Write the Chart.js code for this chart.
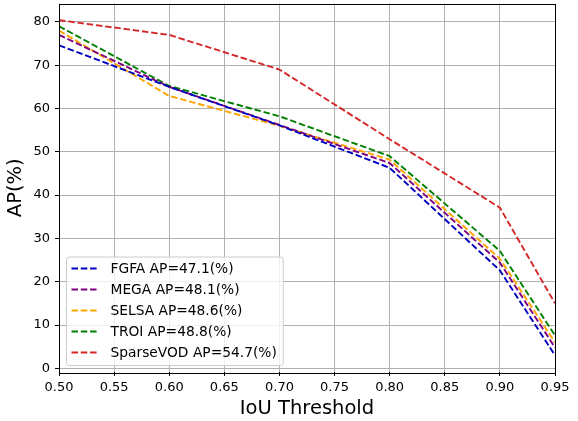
<!DOCTYPE html>
<html>
<head>
<meta charset="utf-8">
<script src="https://cdn.jsdelivr.net/npm/chart.js@4/dist/chart.umd.min.js"></script>
<style>
html,body{margin:0;padding:0;background:#fff;}
#wrap{width:578px;height:421px;position:relative;}
</style>
</head>
<body>
<div id="wrap"><canvas id="myChart"></canvas></div>
<script>
// values
const iou = [0.5, 0.6, 0.7, 0.8, 0.9, 0.95];
const fgfa = [74.6, 65.0, 56.1, 46.3, 22.6, 3.0];
const mega = [77.0, 65.0, 56.2, 47.4, 24.4, 4.8];
const selsa = [78.0, 62.9, 56.0, 48.2, 25.3, 6.0];
const troi = [79.0, 65.2, 58.2, 49.0, 27.1, 7.6];
const sparse = [80.4, 77.0, 69.0, 52.9, 37.1, 15.0];
const names = ["FGFA AP=47.1(%)", "MEGA AP=48.1(%)", "SELSA AP=48.6(%)", "TROI AP=48.8(%)", "SparseVOD AP=54.7(%)"];
const colors = ["#0000c0", "purple", "orange", "green", "#d62728"];
const xTicks = [0.5, 0.55, 0.6, 0.65, 0.7, 0.75, 0.8, 0.85, 0.9, 0.95];
const yTicks = [0, 10, 20, 30, 40, 50, 60, 70, 80];

const FONT = "'DejaVu Sans', sans-serif";

function pts(arr){
    return arr.map((v,i)=>({x: iou[i], y: v}));
}

let series = [fgfa, mega, selsa, troi, sparse];
let datasets = series.map((s,i)=>({
    label: names[i],
    data: pts(s),
    borderColor: colors[i],
    backgroundColor: colors[i],
    borderWidth: 1.9,
    borderDash: [6.5, 2.8],
    pointRadius: 0,
    fill: false,
    tension: 0
}));

// spines + legend box drawn inside the plot like matplotlib
const boxPlugin = {
    id: 'boxPlugin',
    afterDatasetsDraw(chart){
        const ctx = chart.ctx, a = chart.chartArea;
        ctx.save();
        ctx.strokeStyle = '#000';
        ctx.lineWidth = 1;
        ctx.strokeRect(Math.round(a.left)+0.5, Math.round(a.top)+0.5, Math.round(a.right-a.left), Math.round(a.bottom-a.top));
        ctx.restore();
    },
    afterDraw(chart){
        const ctx = chart.ctx, a = chart.chartArea;
        const ds = chart.data.datasets;
        ctx.save();
        ctx.font = "13.8px " + FONT;
        let maxW = 0;
        ds.forEach(d=>{ maxW = Math.max(maxW, ctx.measureText(d.label).width); });
        const rowH = 21;
        const left = a.left + 7;
        const w = 44.5 + maxW + 6;
        const h = rowH*(ds.length-1) + 24.5;
        const top = a.bottom - 7 - h;
        ctx.beginPath();
        ctx.roundRect(left+0.5, top+0.5, w, h, 3);
        ctx.fillStyle = 'rgba(255,255,255,0.8)';
        ctx.fill();
        ctx.strokeStyle = '#cccccc';
        ctx.lineWidth = 1;
        ctx.stroke();
        ds.forEach((d,i)=>{
            const y = top + 12 + i*rowH;
            ctx.beginPath();
            ctx.setLineDash(d.borderDash);
            ctx.strokeStyle = d.borderColor;
            ctx.lineWidth = d.borderWidth;
            ctx.moveTo(left+5.5, y);
            ctx.lineTo(left+32, y);
            ctx.stroke();
            ctx.setLineDash([]);
            ctx.fillStyle = '#000';
            ctx.textBaseline = 'middle';
            ctx.textAlign = 'left';
            ctx.fillText(d.label, left+44.5, y+1);
        });
        ctx.restore();
    }
};

Chart.defaults.font.family = FONT;
Chart.defaults.color = '#000';

var mychart = document.getElementById('myChart').getContext('2d');
var result = new Chart(mychart,{
    type: 'line',
    data: { datasets },
    plugins: [boxPlugin],
    options: {
        responsive: true,
        maintainAspectRatio: false,
        animation: false,
        layout: { padding: { top: 3.5, right: 23, left: 0, bottom: 0 } },
        plugins: {
            legend: { display: false },
            tooltip: { enabled: false }
        },
        scales: {
            x: {
                type: 'linear',
                min: 0.5,
                max: 0.95,
                afterBuildTicks(scale){ scale.ticks = xTicks.map(v=>({value: v})); },
                afterFit(scale){ scale.height = 49; },
                ticks: {
                    font: { size: 13 },
                    padding: 4,
                    maxRotation: 0,
                    autoSkip: false,
                    callback: v => v.toFixed(2)
                },
                grid: { color: '#b0b0b0', lineWidth: 1, tickColor: '#000', tickLength: 4 },
                border: { display: false },
                title: {
                    display: true,
                    text: 'IoU Threshold',
                    font: { size: 19.5 },
                    padding: { top: 0.8, bottom: 0 }
                }
            },
            y: {
                min: -0.85,
                max: 84.25,
                afterBuildTicks(scale){ scale.ticks = yTicks.map(v=>({value: v})); },
                afterFit(scale){
                    scale.width = 59;
                    scale.paddingTop = 0;
                    scale.paddingBottom = 0;
                },
                ticks: { font: { size: 13 }, padding: 5 },
                grid: { color: '#b0b0b0', lineWidth: 1, tickColor: '#000', tickLength: 4 },
                border: { display: false },
                title: {
                    display: true,
                    text: 'AP(%)',
                    font: { size: 19.5 },
                    padding: { top: 4.3, bottom: 0 }
                }
            }
        }
    }
});
</script>
</body>
</html>
